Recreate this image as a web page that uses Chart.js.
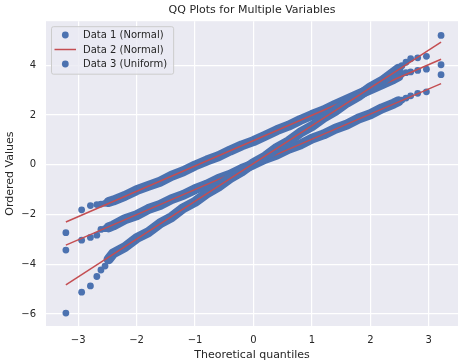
<!DOCTYPE html>
<html>
<head>
<meta charset="utf-8">
<script src="https://cdn.jsdelivr.net/npm/chart.js@4.4.1/dist/chart.umd.min.js"></script>
<style>
  html, body { margin: 0; padding: 0; background: #ffffff; }
  #wrap { width: 474px; height: 364px; }
</style>
</head>
<body>
<div id="wrap"><canvas id="qq"></canvas></div>
<script>
// theoretical quantiles (shared by all three samples)
const quantiles = [
  -3.21, -2.94, -2.79, -2.68, -2.61, -2.54, -2.48,
  -2.4, -2.2, -2.0, -1.8, -1.6, -1.4, -1.2, -1.0, -0.8, -0.6, -0.4, -0.2,
  0, 0.2, 0.4, 0.6, 0.8, 1.0, 1.2, 1.4, 1.6, 1.8, 2.0, 2.2, 2.4,
  2.48, 2.54, 2.61, 2.69, 2.81, 2.96, 3.21
];

// ordered values
const data1 = [
  -3.43, -3.03, -2.92, -2.83, -2.60, -2.57, -2.52,
  -2.44, -2.19, -2.03, -1.78, -1.62, -1.38, -1.21, -0.98, -0.80, -0.57, -0.40, -0.17,
  0.02, 0.24, 0.41, 0.64, 0.81, 1.05, 1.22, 1.45, 1.62, 1.86, 2.03, 2.27, 2.46,
  2.55, 2.60, 2.68, 2.77, 2.87, 2.93, 3.62
];
const data2 = [
  -2.73, -1.81, -1.64, -1.60, -1.58, -1.55, -1.50,
  -1.44, -1.25, -1.02, -0.85, -0.68, -0.44, -0.26, -0.03, 0.17, 0.34, 0.57, 0.78,
  0.95, 1.17, 1.39, 1.57, 1.80, 2.00, 2.18, 2.41, 2.62, 2.83, 3.03, 3.24, 3.45,
  3.55, 3.65, 3.70, 3.73, 3.79, 3.84, 4.02
];
const data3 = [
  -5.96, -5.12, -4.87, -4.49, -4.23, -4.07, -3.80,
  -3.56, -3.31, -2.95, -2.71, -2.36, -2.10, -1.74, -1.49, -1.15, -0.88, -0.54, -0.27,
  0.07, 0.33, 0.68, 0.94, 1.29, 1.55, 1.89, 2.16, 2.50, 2.77, 3.11, 3.37, 3.72,
  3.86, 3.98, 4.12, 4.26, 4.30, 4.36, 5.20
];

// least squares fit lines (end points)
const fitX = [-3.21, 3.21];
const fit1 = [-3.23, 3.26];
const fit2 = [-2.30, 4.24];
const fit3 = [-4.83, 4.93];

const xTicks = [-3, -2, -1, 0, 1, 2, 3];
const yTicks = [-6, -4, -2, 0, 2, 4];

const labels = ["Data 1 (Normal)", "Data 2 (Normal)", "Data 3 (Uniform)"];

const BLUE = "#4C72B0";
const RED = "#C44E52";
const TEXT = "#262626";
const FONT = "'DejaVu Sans', sans-serif";

const pts = (ys) => quantiles.map((x, i) => ({ x: x, y: ys[i] }));
const line = (ys) => fitX.map((x, i) => ({ x: x, y: ys[i] }));

function pointSet(ys, label, order) {
  return {
    label: label,
    data: pts(ys),
    order: order,
    showLine: false,
    pointRadius: 3.4,
    pointBackgroundColor: BLUE,
    pointBorderWidth: 0,
  };
}

// thick stroke through the dense middle so it reads as a solid band
function bandSet(ys, order) {
  return {
    data: pts(ys).slice(6, 33),
    order: order,
    showLine: true,
    borderColor: BLUE,
    borderWidth: 10,
    borderCapStyle: "round",
    borderJoinStyle: "round",
    pointRadius: 0,
  };
}

function fitSet(ys, label, order) {
  return {
    label: label,
    data: line(ys),
    order: order,
    showLine: true,
    borderColor: RED,
    borderWidth: 1.5,
    pointRadius: 0,
    isLine: true,
  };
}

const plotBg = {
  id: "plotBg",
  beforeDraw(chart) {
    const { ctx, chartArea: a } = chart;
    ctx.save();
    ctx.fillStyle = "#EAEAF2";
    ctx.fillRect(a.left, a.top, a.right - a.left, a.bottom - a.top);
    ctx.restore();
  },
};

// matplotlib style legend inside the axes
const legendBox = {
  id: "legendBox",
  afterDraw(chart) {
    const { ctx, chartArea: a } = chart;
    const items = chart.data.datasets.filter((d) => d.label);
    const left = a.left + 5;
    const top = a.top + 5;
    const rowH = 14.5;
    ctx.save();
    ctx.font = "10px " + FONT;
    let textW = 0;
    items.forEach((d) => { textW = Math.max(textW, ctx.measureText(d.label).width); });
    const w = 32 + textW + 6;
    const h = items.length * rowH + 4;
    ctx.fillStyle = "rgba(234,234,242,0.8)";
    ctx.strokeStyle = "#CCCCCC";
    ctx.lineWidth = 1;
    ctx.beginPath();
    ctx.roundRect(left + 0.5, top + 0.5, w, h, 2);
    ctx.fill();
    ctx.stroke();
    items.forEach((d, i) => {
      const cy = top + 8.8 + i * rowH;
      if (d.isLine) {
        ctx.strokeStyle = RED;
        ctx.lineWidth = 1.5;
        ctx.beginPath();
        ctx.moveTo(left + 3.5, cy);
        ctx.lineTo(left + 25, cy);
        ctx.stroke();
      } else {
        ctx.fillStyle = BLUE;
        ctx.beginPath();
        ctx.arc(left + 14.3, cy, 3.4, 0, Math.PI * 2);
        ctx.fill();
      }
      ctx.fillStyle = TEXT;
      ctx.textBaseline = "middle";
      ctx.textAlign = "left";
      ctx.fillText(d.label, left + 32, cy + 0.5);
    });
    ctx.restore();
  },
};

const minus = (v) => (v < 0 ? "\u2212" + Math.abs(v) : String(v));

new Chart(document.getElementById("qq"), {
  type: "scatter",
  data: {
    datasets: [
      pointSet(data1, labels[0], 6),
      bandSet(data1, 6),
      fitSet(fit1, labels[1], 5),
      pointSet(data2, labels[2], 4),
      bandSet(data2, 4),
      fitSet(fit2, undefined, 3),
      pointSet(data3, undefined, 2),
      bandSet(data3, 2),
      fitSet(fit3, undefined, 1),
    ],
  },
  options: {
    responsive: true,
    maintainAspectRatio: false,
    animation: false,
    layout: { padding: { left: 0, right: 16, top: 0, bottom: 0 } },
    plugins: {
      legend: { display: false },
      tooltip: { enabled: false },
      title: {
        display: true,
        text: "QQ Plots for Multiple Variables",
        fullSize: false,
        color: TEXT,
        font: { family: FONT, size: 11, weight: "normal" },
        padding: { top: 4, bottom: 4 },
      },
    },
    scales: {
      x: {
        type: "linear",
        min: -3.55,
        max: 3.5,
        border: { display: false },
        grid: { color: "#ffffff", lineWidth: 1.2, drawTicks: false },
        ticks: {
          color: TEXT,
          font: { family: FONT, size: 10 },
          padding: 8,
          callback: (v) => minus(v),
        },
        afterBuildTicks: (s) => { s.ticks = xTicks.map((v) => ({ value: v })); },
        afterFit: (s) => { s.height = 38; },
        title: {
          display: true,
          text: "Theoretical quantiles",
          color: TEXT,
          font: { family: FONT, size: 11 },
          padding: { top: 0, bottom: 2 },
        },
      },
      y: {
        type: "linear",
        min: -6.48,
        max: 5.77,
        border: { display: false },
        grid: { color: "#ffffff", lineWidth: 1.2, drawTicks: false },
        ticks: {
          color: TEXT,
          font: { family: FONT, size: 10 },
          padding: 10,
          callback: (v) => minus(v),
        },
        afterBuildTicks: (s) => { s.ticks = yTicks.map((v) => ({ value: v })); },
        afterFit: (s) => { s.width = 46; },
        title: {
          display: true,
          text: "Ordered Values",
          color: TEXT,
          font: { family: FONT, size: 11 },
          padding: { top: 4, bottom: 0 },
        },
      },
    },
  },
  plugins: [plotBg, legendBox],
});
</script>
</body>
</html>
